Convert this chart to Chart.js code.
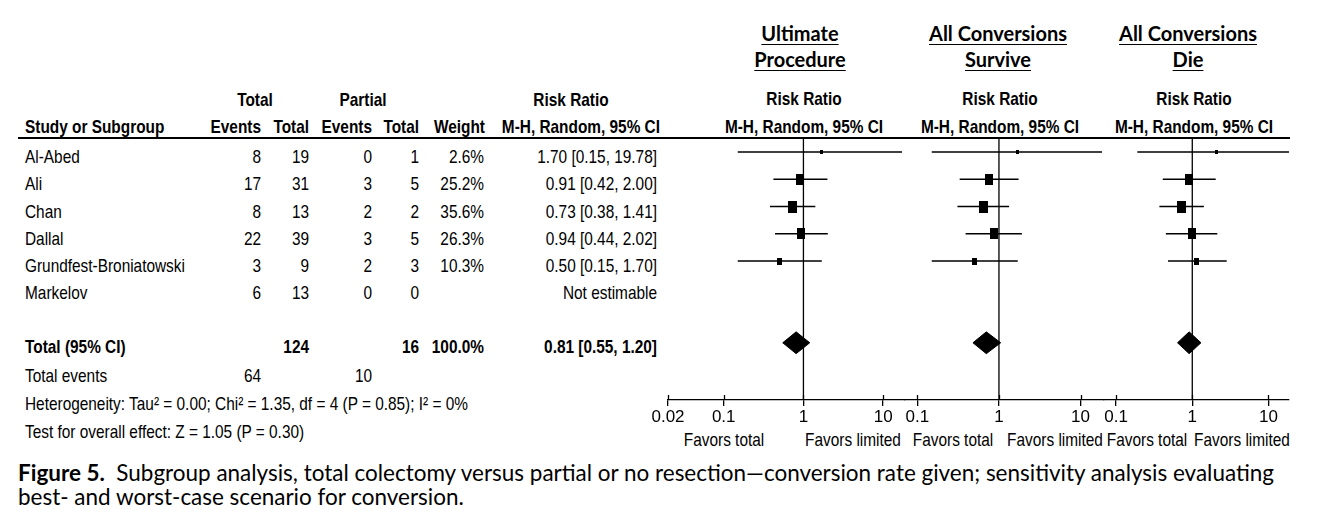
<!DOCTYPE html>
<html>
<head>
<meta charset="utf-8">
<script src="https://cdn.jsdelivr.net/npm/chart.js@4.4.1/dist/chart.umd.min.js"></script>
<style>
  html, body { margin: 0; padding: 0; background: #fff; }
  #wrap { position: relative; width: 1333px; height: 519px; overflow: hidden; background: #fff; }
  .t { position: absolute; white-space: pre; line-height: 1; color: #000; }
  .b { font-weight: bold; }
  .u { text-decoration: underline; text-underline-offset: 3px; }
  .cv { position: absolute; }
  .rule { position: absolute; background: #000; }
</style>
</head>
<body>
<div id="wrap"></div>
<script>
// study table
const studies = ['Al-Abed', 'Ali', 'Chan', 'Dallal', 'Grundfest-Broniatowski', 'Markelov'];
const totalEvents = [8, 17, 8, 22, 3, 6];
const totalN = [19, 31, 13, 39, 9, 13];
const partialEvents = [0, 3, 2, 3, 2, 0];
const partialN = [1, 5, 2, 5, 3, 0];
const weights = [2.6, 25.2, 35.6, 26.3, 10.3, null];

// panel 1: ultimate procedure (risk ratio, lower, upper)
const ultRR = [1.70, 0.91, 0.73, 0.94, 0.50, null];
const ultLo = [0.15, 0.42, 0.38, 0.44, 0.15, null];
const ultHi = [19.78, 2.00, 1.41, 2.02, 1.70, null];
const ultTotal = [0.81, 0.55, 1.20];

// panel 2: all conversions survive
const survRR = [1.70, 0.75, 0.64, 0.86, 0.50, null];
const survLo = [0.15, 0.33, 0.31, 0.39, 0.15, null];
const survHi = [19.78, 1.74, 1.33, 1.91, 1.70, null];
const survTotal = [0.70, 0.48, 1.05];

// panel 3: all conversions die
const dieRR = [2.07, 0.91, 0.73, 0.98, 1.15, null];
const dieLo = [0.19, 0.41, 0.37, 0.45, 0.48, null];
const dieHi = [23.0, 2.03, 1.42, 2.13, 2.83, null];
const dieTotal = [0.91, 0.64, 1.30];

const ticksFirst = [0.02, 0.1, 1, 10];
const ticksOther = [0.1, 1, 10];

// narrow text = Liberation Sans squeezed horizontally (Arial Narrow look)
const SANS = "'Liberation Sans', Arial, sans-serif";
const SQUEEZE = 0.82;
const CAPF = "Lato, 'Open Sans', sans-serif";

const wrap = document.getElementById('wrap');
const mctx = document.createElement('canvas').getContext('2d');
function textW(t, font) { mctx.font = font; return mctx.measureText(t).width; }

// pick font sizes so the text widths match the figure
const nSize = 160 / (textW('Grundfest-Broniatowski', '100px ' + SANS) * SQUEEZE) * 100;
const capSize = 1259 / (textW('Figure 5.', 'bold 100px ' + CAPF) +
  textW('  Subgroup analysis, total colectomy versus partial or no resection\u2014conversion rate given; sensitivity analysis evaluating', '100px ' + CAPF)) * 100;
const headSize = 138 / textW('All Conversions', 'bold 100px ' + CAPF) * 100;

function put(txt, x, y, align, opts) {
  opts = opts || {};
  const d = document.createElement('div');
  d.className = 't' + (opts.bold ? ' b' : '') + (opts.under ? ' u' : '');
  d.textContent = txt;
  const narrow = !opts.family;
  d.style.fontFamily = opts.family || SANS;
  d.style.fontSize = (opts.size || nSize) + 'px';
  d.style.left = x + 'px';
  d.style.top = y + 'px';
  const tx = align === 'right' ? '-100%' : align === 'center' ? '-50%' : '0';
  d.style.transformOrigin = (align === 'right' ? 'right' : align === 'center' ? 'center' : 'left') + ' center';
  d.style.transform = 'translate(' + tx + ', -50%)' + (narrow ? ' scaleX(' + SQUEEZE + ')' : '');
  wrap.appendChild(d);
  return d;
}

const rowY = i => 152 + 27.25 * i;
const TXT = 5;
const fmt = v => v.toFixed(2);

// table header
put('Total', 255, 100, 'center', {bold: true});
put('Partial', 363, 100, 'center', {bold: true});
put('Risk Ratio', 571, 100, 'center', {bold: true});
put('Study or Subgroup', 25, 127, 'left', {bold: true});
put('Events', 261, 127, 'right', {bold: true});
put('Total', 309, 127, 'right', {bold: true});
put('Events', 372, 127, 'right', {bold: true});
put('Total', 419, 127, 'right', {bold: true});
put('Weight', 485, 127, 'right', {bold: true});
put('M-H, Random, 95% CI', 660, 127, 'right', {bold: true});

const rule = document.createElement('div');
rule.className = 'rule';
rule.style.left = '18px'; rule.style.top = '137px'; rule.style.width = '1272px'; rule.style.height = '1.5px';
wrap.appendChild(rule);

// study rows
studies.forEach((s, i) => {
  const y = rowY(i) + TXT;
  put(s, 25, y, 'left');
  put(String(totalEvents[i]), 261, y, 'right');
  put(String(totalN[i]), 309, y, 'right');
  put(String(partialEvents[i]), 372, y, 'right');
  put(String(partialN[i]), 419, y, 'right');
  if (weights[i] != null) put(weights[i].toFixed(1) + '%', 484, y, 'right');
  put(ultRR[i] == null ? 'Not estimable' : fmt(ultRR[i]) + ' [' + fmt(ultLo[i]) + ', ' + fmt(ultHi[i]) + ']', 657, y, 'right');
});

const sum = a => a.reduce((p, v) => p + (v || 0), 0);
const TOTAL_ROW = 7;
let y = rowY(TOTAL_ROW) + TXT - 1;
put('Total (95% CI)', 25, y, 'left', {bold: true});
put(String(sum(totalN)), 309, y, 'right', {bold: true});
put(String(sum(partialN)), 419, y, 'right', {bold: true});
put(sum(weights).toFixed(1) + '%', 484, y, 'right', {bold: true});
put(fmt(ultTotal[0]) + ' [' + fmt(ultTotal[1]) + ', ' + fmt(ultTotal[2]) + ']', 657, y, 'right', {bold: true});
y = rowY(8) + TXT + 1;
put('Total events', 25, y, 'left');
put(String(sum(totalEvents)), 261, y, 'right');
put(String(sum(partialEvents)), 372, y, 'right');
put('Heterogeneity: Tau\u00b2 = 0.00; Chi\u00b2 = 1.35, df = 4 (P = 0.85); I\u00b2 = 0%', 25, rowY(9) + TXT + 2, 'left');
put('Test for overall effect: Z = 1.05 (P = 0.30)', 25, rowY(10) + TXT + 2, 'left');

// panel headers
const titles = [['Ultimate', 'Procedure', 800], ['All Conversions', 'Survive', 998], ['All Conversions', 'Die', 1188]];
titles.forEach(t => {
  put(t[0], t[2], 33, 'center', {bold: true, under: true, family: CAPF, size: headSize});
  put(t[1], t[2], 59, 'center', {bold: true, under: true, family: CAPF, size: headSize});
});
[804, 1000, 1194].forEach(x => {
  put('Risk Ratio', x, 99, 'center', {bold: true});
  put('M-H, Random, 95% CI', x, 127, 'center', {bold: true});
});
[[724, 853], [953, 1055], [1147, 1242]].forEach(p => {
  put('Favors total', p[0], 440, 'center');
  put('Favors limited', p[1], 440, 'center');
});

// caption
const cap = put('', 18, 473, 'left', {family: CAPF, size: capSize});
const fb = document.createElement('b'); fb.textContent = 'Figure 5.';
cap.appendChild(fb);
cap.appendChild(document.createTextNode('  Subgroup analysis, total colectomy versus partial or no resection\u2014conversion rate given; sensitivity analysis evaluating'));
put('best- and worst-case scenario for conversion.', 18, 497, 'left', {family: CAPF, size: capSize});

// study squares, sized by weight
const marks = weights.map(w => {
  if (w == null) return null;
  const sw = Math.max(3, Math.round(1.56 * Math.sqrt(w)));
  const c = document.createElement('canvas');
  c.width = sw; c.height = Math.round(sw * 1.33);
  const g = c.getContext('2d');
  g.fillStyle = '#000'; g.fillRect(0, 0, c.width, c.height);
  return c;
});

// tick marks also poke a little above the axis line
const tickUp = {
  id: 'tickUp',
  afterDraw(chart) {
    const s = chart.scales.x, g = chart.ctx;
    g.save();
    g.strokeStyle = '#000';
    g.lineWidth = 1.3;
    s.ticks.forEach(t => {
      const px = Math.round(s.getPixelForValue(t.value)) + 0.5;
      g.beginPath(); g.moveTo(px, s.top - 5); g.lineTo(px, s.top); g.stroke();
    });
    g.restore();
  }
};

const Y_MIN = -0.514, Y_MAX = 9.10, DH = 0.40;

function panel(cfg) {
  const {left, right, padL, padR, xMin, xMax, rr, lo, hi, tot, tickVals, clipL, clipR} = cfg;
  const box = document.createElement('div');
  box.className = 'cv';
  box.style.left = (left - padL) + 'px';
  box.style.top = '128px';
  box.style.width = (padL + right - left + padR) + 'px';
  box.style.height = '322px';
  const cv = document.createElement('canvas');
  box.appendChild(cv);
  wrap.appendChild(box);

  const clip = {left: clipL, right: clipR, top: false, bottom: false};
  const idx = rr.map((v, i) => v == null ? -1 : i).filter(i => i >= 0);
  const ds = [];
  ds.push({
    type: 'scatter', data: idx.map(i => ({x: rr[i], y: i})),
    pointStyle: idx.map(i => marks[i]), pointRadius: 4, clip: clip, order: 0
  });
  ds.push({
    type: 'line',
    data: [{x: tot[1], y: TOTAL_ROW}, {x: tot[0], y: TOTAL_ROW - DH}, {x: tot[2], y: TOTAL_ROW},
           {x: tot[0], y: TOTAL_ROW + DH}, {x: tot[1], y: TOTAL_ROW}],
    fill: 'shape', backgroundColor: '#000', borderColor: '#000', borderWidth: 1,
    pointRadius: 0, tension: 0, clip: clip, order: 1
  });
  idx.forEach(i => ds.push({
    type: 'line', data: [{x: lo[i], y: i}, {x: hi[i], y: i}],
    borderColor: '#000', borderWidth: 1.6, pointRadius: 0, clip: clip, order: 2
  }));
  ds.push({
    type: 'line', data: [{x: 1, y: Y_MIN}, {x: 1, y: Y_MAX}],
    borderColor: '#000', borderWidth: 1.3, pointRadius: 0, clip: false, order: 3
  });

  new Chart(cv, {
    type: 'line',
    data: {datasets: ds},
    plugins: [tickUp],
    options: {
      responsive: true,
      maintainAspectRatio: false,
      animation: false,
      events: [],
      layout: {padding: {left: padL, right: padR, top: 10, bottom: 0}},
      plugins: {legend: {display: false}, tooltip: {enabled: false}},
      scales: {
        x: {
          type: 'logarithmic', min: xMin, max: xMax, position: 'bottom',
          afterBuildTicks: s => { s.ticks = tickVals.map(v => ({value: v})); },
          afterFit: s => { s.height = 50; },
          ticks: {
            callback: v => String(v), color: '#000', padding: 1,
            maxRotation: 0, autoSkip: false, font: {family: SANS, size: Math.round(nSize * 0.92)}
          },
          grid: {display: true, drawOnChartArea: false, drawTicks: true, tickLength: 6, color: '#000', lineWidth: 1.3},
          border: {display: true, color: '#000', width: 1.3}
        },
        y: {type: 'linear', min: Y_MIN, max: Y_MAX, reverse: true, display: false}
      }
    }
  });
}

panel({left: 668, right: 905, padL: 30, padR: 10, xMin: 0.02, xMax: 18.8,
  rr: ultRR, lo: ultLo, hi: ultHi, tot: ultTotal, tickVals: ticksFirst, clipL: 0, clipR: -3});
panel({left: 905, right: 1104, padL: 10, padR: 10, xMin: 0.0705, xMax: 19.4,
  rr: survRR, lo: survLo, hi: survHi, tot: survTotal, tickVals: ticksOther, clipL: 0, clipR: -2});
panel({left: 1104, right: 1289, padL: 10, padR: 14, xMin: 0.0694, xMax: 18.6,
  rr: dieRR, lo: dieLo, hi: dieHi, tot: dieTotal, tickVals: ticksOther, clipL: 0, clipR: 0});
</script>
</body>
</html>
